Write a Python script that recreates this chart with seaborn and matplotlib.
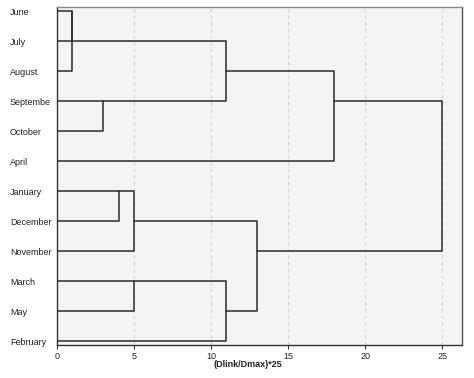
#!/usr/bin/env python
'''
Dendrogram of the months (SPSS-style), rescaled distance (Dlink/Dmax)*25.
'''
import matplotlib
matplotlib.use('Agg')
import matplotlib.pyplot as plt
import pandas as pd
import seaborn as sns

# leaf order as shown top to bottom
months = ['June', 'July', 'August', 'Septembe', 'October', 'April',
          'January', 'December', 'November', 'March', 'May', 'February']

# agglomeration schedule: left child, right child, rescaled distance
merge_left = ['June', 'C1', 'Septembe', 'January', 'C4', 'March', 'C2', 'C6', 'C5', 'C7', 'C10']
merge_right = ['July', 'August', 'October', 'December', 'November', 'May', 'C3', 'February', 'C8', 'April', 'C9']
merge_dist = [1, 1, 3, 4, 5, 5, 11, 11, 13, 18, 25]

x_ticks = [0, 5, 10, 15, 20, 25]


def build_segments():
    # each node: (row position, height)
    nodes = {m: (i, 0) for i, m in enumerate(months)}
    rows = []
    for k, (a, b, d) in enumerate(zip(merge_left, merge_right, merge_dist)):
        ya, ha = nodes[a]
        yb, hb = nodes[b]
        for x, y in [(ha, ya), (d, ya), (d, yb), (hb, yb)]:
            rows.append({'seg': k, 'dist': x, 'row': y})
        # SPSS puts the new cluster on the (floored) middle row
        nodes[f'C{k + 1}'] = ((ya + yb) // 2, d)
    return pd.DataFrame(rows)


df = build_segments()

sns.set_theme(style='ticks')
plt.rcParams['font.family'] = ['Liberation Sans', 'DejaVu Sans']

fig = plt.figure(figsize=(4.74, 3.78), dpi=100)
ax = fig.add_axes([0.120, 0.087, 0.855, 0.894])
ax.set_facecolor('#f3f5f5')

for x in x_ticks[1:]:
    ax.axvline(x, color='#cfd2d2', lw=0.8, ls=(0, (3, 3)), zorder=0)

sns.lineplot(data=df, x='dist', y='row', units='seg', estimator=None, sort=False,
             color='#2a2a2a', lw=1.1, ax=ax, legend=False)

ax.set_xlim(0, 26.3)
ax.set_ylim(11.13, -0.13)
ax.set_xticks(x_ticks)
ax.set_xticklabels([str(t) for t in x_ticks], fontsize=6.5, color='#222222')
ax.set_yticks(range(len(months)))
ax.set_yticklabels(months, fontsize=6.5, color='#222222')
for lab in ax.get_yticklabels():
    lab.set_ha('left')
ax.tick_params(axis='y', length=0, pad=33.8)
ax.tick_params(axis='x', length=3, width=0.8, pad=2, color='#333333')

ax.set_ylabel('')
ax.set_xlabel('(Dlink/Dmax)*25', fontsize=6.5, fontweight='bold', color='#222222')
ax.xaxis.set_label_coords(0.472, -0.045)

for side in ['left', 'bottom']:
    ax.spines[side].set_color('#333333')
    ax.spines[side].set_linewidth(1.0)
ax.spines['top'].set_color('#8a8a8a')
ax.spines['right'].set_color('#555555')
for side in ['top', 'right']:
    ax.spines[side].set_visible(True)
    ax.spines[side].set_linewidth(1.0)

fig.savefig('out.png', dpi=100)
